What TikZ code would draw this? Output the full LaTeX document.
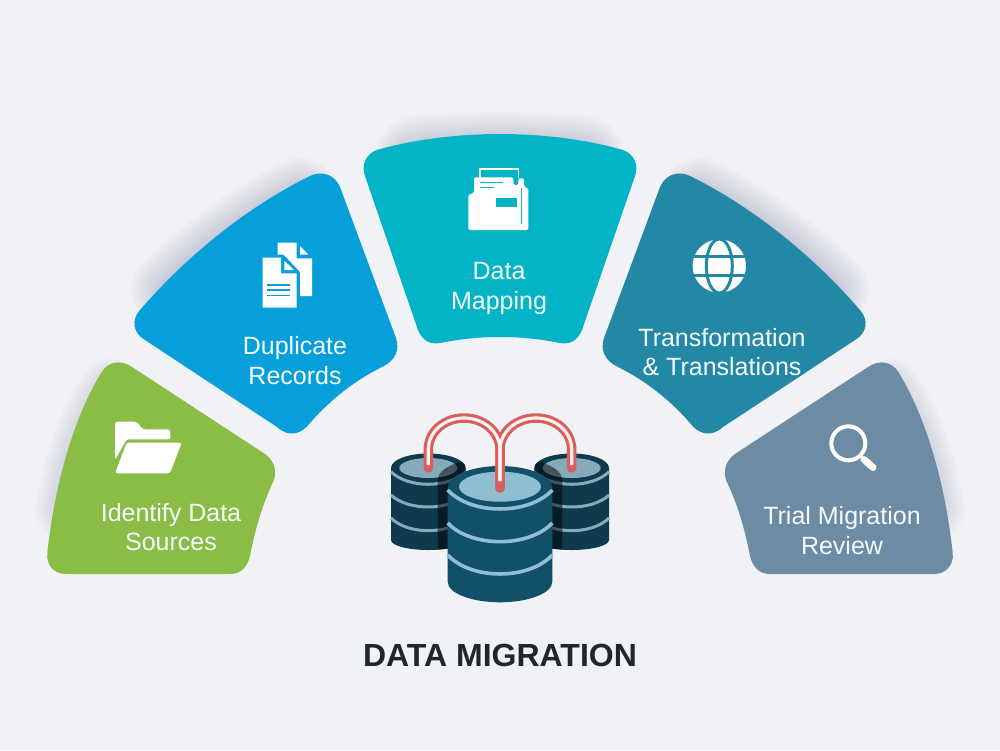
\documentclass[tikz,border=0pt]{standalone}
\usepackage{fontspec}
\setmainfont{Liberation Sans}
\definecolor{bgc}{HTML}{F0F2F6}
\definecolor{cgreen}{HTML}{8ABD45}
\definecolor{cblue}{HTML}{079FDA}
\definecolor{cteal}{HTML}{03B3C6}
\definecolor{cdteal}{HTML}{2387A6}
\definecolor{cslate}{HTML}{6C8BA5}
\definecolor{shadowc}{HTML}{7070A8}
\definecolor{backdb}{HTML}{0D3A4D}
\definecolor{backin}{HTML}{86AABA}
\definecolor{frontdb}{HTML}{12506A}
\definecolor{frontin}{HTML}{8FBED2}
\definecolor{pipered}{HTML}{D8605C}
\definecolor{txtc}{HTML}{F4FBFD}
\definecolor{titlec}{HTML}{22252A}
\tikzset{
  label text/.style={text=txtc,align=center,inner sep=0pt,font=\fontsize{25}{29.5}\selectfont},
  title text/.style={text=titlec,inner sep=0pt,font=\fontsize{32}{36}\selectfont\bfseries},
  mirrored/.style={shift={(1000,0)},xscale=-1},
  icon/.style={fill=white},
  soft/.style={rounded corners=1.5pt},
}
\newcommand{\greenshape}[1]{\path[#1] (47.3,553) .. controls (54,490) and (72,420) .. (101.7,372) .. controls (108,362) and (120,359) .. (132,367) -- (262,452) .. controls (274,459) and (277,470) .. (274,480) .. controls (262,505) and (255,530) .. (250,556) .. controls (247,568) and (240,574) .. (230,574) -- (66,574) .. controls (54,574) and (46,565) .. (47.3,553) -- cycle;}
\newcommand{\blueshape}[1]{\path[#1] (140,310) .. controls (185,258) and (245,208) .. (310,176) .. controls (322,170) and (335,175) .. (340,187) -- (396,338) .. controls (400,350) and (395,360) .. (384,366) .. controls (355,380) and (330,400) .. (310,423) .. controls (302,434) and (289,438) .. (277,427) -- (145,340) .. controls (133,333) and (131,320) .. (140,310) -- cycle;}
\newcommand{\softshadow}[2]{\foreach \w in {3,6,...,#1}{\path[draw=shadowc,opacity=.014,line width=\w pt,line cap=round] #2;}}
\newcommand{\cylshape}[7]{\path[#7] ({#1-#3},#2) .. controls ({#1-#3},{#2-.5523*#4}) and ({#1-.5523*#3},{#2-#4}) .. (#1,{#2-#4}) .. controls ({#1+.5523*#3},{#2-#4}) and ({#1+#3},{#2-.5523*#4}) .. ({#1+#3},#2) -- ({#1+#3},{#2+#5}) .. controls ({#1+#3},{#2+#5+.5523*#6}) and ({#1+.5523*#3},{#2+#5+#6}) .. (#1,{#2+#5+#6}) .. controls ({#1-.5523*#3},{#2+#5+#6}) and ({#1-#3},{#2+#5+.5523*#6}) .. ({#1-#3},{#2+#5}) -- cycle;}
\newcommand{\band}[6]{\draw[#6,line width=#5] ({#1-#3},#2) .. controls ({#1-.55*#3},{#2+1.33*#4}) and ({#1+.55*#3},{#2+1.33*#4}) .. ({#1+#3},#2);}
\begin{document}
\begin{tikzpicture}[x=1pt,y=-1pt]
\useasboundingbox (0,0) rectangle (1000,750);
\fill[bgc] (0,0) rectangle (1000,750);

% soft shadows on the outer arcs
\softshadow{54}{(62,510) .. controls (68,465) and (82,425) .. (108,385)}
\softshadow{78}{(170,290) .. controls (205,255) and (250,222) .. (300,196)}
\softshadow{78}{(415,155) .. controls (470,148) and (530,148) .. (585,155)}
\begin{scope}[mirrored]
\softshadow{54}{(62,510) .. controls (68,465) and (82,425) .. (108,385)}
\softshadow{78}{(170,290) .. controls (205,255) and (250,222) .. (300,196)}
\end{scope}

% segments
\greenshape{fill=cgreen}
\blueshape{fill=cblue}
\path[fill=cteal] (376.7,150) .. controls (415,139) and (460,134) .. (500,134) .. controls (540,134) and (585,139) .. (623,150) .. controls (634,154) and (639,165) .. (635,176) -- (582,330) .. controls (578,340) and (570,345) .. (560,343) .. controls (520,335) and (480,335) .. (440,343) .. controls (430,345) and (422,340) .. (418,330) -- (365,176) .. controls (361,165) and (366,154) .. (376.7,150) -- cycle;
\begin{scope}[mirrored]
\blueshape{fill=cdteal}
\greenshape{fill=cslate}
\end{scope}

% folder icon
\fill[icon,rounded corners=2.5pt] (115,421.7) -- (136.7,421.7) -- (142.7,429.3) -- (170,429.3) -- (170.7,439.3) -- (126.7,439.3) -- (115,460) -- cycle;
\fill[icon,rounded corners=2.5pt] (126.7,442.7) -- (181.7,442.7) -- (170,473.3) -- (115,473.3) -- cycle;

% documents icon
\fill[icon] (277.7,242.7) -- (296.7,242.7) -- (296.7,258.3) -- (312,258.3) -- (312,296) -- (300,296) -- (300,272) -- (283.5,254.5) -- (277.7,254.5) -- cycle;
\fill[icon] (300,246) -- (308.5,254.5) -- (300,254.5) -- cycle;
\fill[icon] (262.7,257.7) -- (281,257.7) -- (281,273.3) -- (296.7,273.3) -- (296.7,307.7) -- (262.7,307.7) -- cycle;
\fill[icon] (284.3,260.7) -- (294,270) -- (284.3,270) -- cycle;
\foreach \ly in {285,290,295.7}{\draw[cblue,line width=1.3pt] (267.3,\ly) -- (290,\ly);}

% data mapping icon
\draw[white,line width=1.3pt] (480,178) -- (480,169) -- (518.3,169) -- (518.3,178);
\fill[icon,soft] (468.3,195) -- (474,192.7) -- (474,177.3) -- (513.3,177.3) -- (513.3,185) -- (518.3,185) -- (518.3,178.3) -- (524,178.3) -- (524,186.7) -- (528.3,188.3) -- (528.3,230) -- (468.3,230) -- cycle;
\draw[cteal,line width=1.1pt] (480,182.7) -- (503.3,182.7);
\draw[cteal,line width=1.1pt] (480,187.7) -- (494,187.7);
\fill[cteal] (496,198.3) rectangle (516.7,206.7);
\draw[cteal,line width=1pt] (521.7,188.3) -- (521.7,224);

% globe icon
\fill[white] (719.3,266) circle[radius=26.7];
\draw[cdteal,line width=3pt] (719.3,266) ellipse[x radius=13,y radius=27];
\draw[cdteal,line width=3pt] (690,256) -- (749,256);
\draw[cdteal,line width=3pt] (690,275) -- (749,275);

% magnifier icon
\draw[white,line width=4pt] (848.3,443.3) circle[radius=17];
\draw[white,line width=2.5pt] (859,455) -- (866,461);
\draw[white,line width=7pt,line cap=round] (864,459.5) -- (873,467.5);

% back databases
\foreach \cx/\sx in {428.3/490,571.7/510}{
  \cylshape{\cx}{468}{37.3}{14.5}{72}{10}{fill=backdb}
  \fill[backin] (\cx,468) ellipse[x radius=29,y radius=10];
  \band{\cx}{471.7}{37.3}{12.6}{3pt}{backin}
  \band{\cx}{495}{37.3}{12}{3pt}{backin}
  \band{\cx}{518}{37.3}{12.7}{3pt}{backin}
  \begin{scope}
    \cylshape{\cx}{468}{37.3}{14.5}{72}{10}{clip}
    \cylshape{\sx}{480}{52.3}{22}{93.7}{20.6}{fill=black,opacity=.5}
  \end{scope}
}

% front database
\cylshape{500}{488}{52.3}{22}{93.7}{20.6}{fill=frontdb}
\fill[frontin] (500,486.7) ellipse[x radius=41,y radius=15];
\band{500}{490}{52.3}{19}{3.6pt}{frontin}
\band{500}{523}{52.3}{18.7}{3.6pt}{frontin}
\band{500}{555}{52.3}{19}{3.6pt}{frontin}

% pipes
\draw[pipered,line width=9.5pt,line cap=round] (428.3,468) -- (428.3,450) .. controls (428.3,431) and (445,418) .. (464,418) .. controls (483,418) and (500,431) .. (500,450) -- (500,488);
\draw[pipered,line width=9.5pt,line cap=round] (571.7,468) -- (571.7,450) .. controls (571.7,431) and (555,418) .. (536,418) .. controls (517,418) and (500,431) .. (500,450) -- (500,488);
\draw[white!90!pipered,line width=3.2pt] (428.3,465) -- (428.3,450) .. controls (428.3,431) and (445,418) .. (464,418) .. controls (483,418) and (500,431) .. (500,450) -- (500,481);
\draw[white!90!pipered,line width=3.2pt] (571.7,465) -- (571.7,450) .. controls (571.7,431) and (555,418) .. (536,418) .. controls (517,418) and (500,431) .. (500,450) -- (500,481);

% labels
\node[label text] (lab1) at (171,527) {Identify Data\\Sources};
\node[label text] (lab2) at (295,360.5) {Duplicate\\Records};
\node[label text] (lab3) at (499,288.5) {Data\\Mapping};
\node[label text] (lab4) at (722,352) {Transformation\\\& Translations};
\node[label text] (lab5) at (842,530.5) {Trial Migration\\Review};
\node[title text] (title) at (500,655) {DATA MIGRATION};
\end{tikzpicture}
\end{document}
